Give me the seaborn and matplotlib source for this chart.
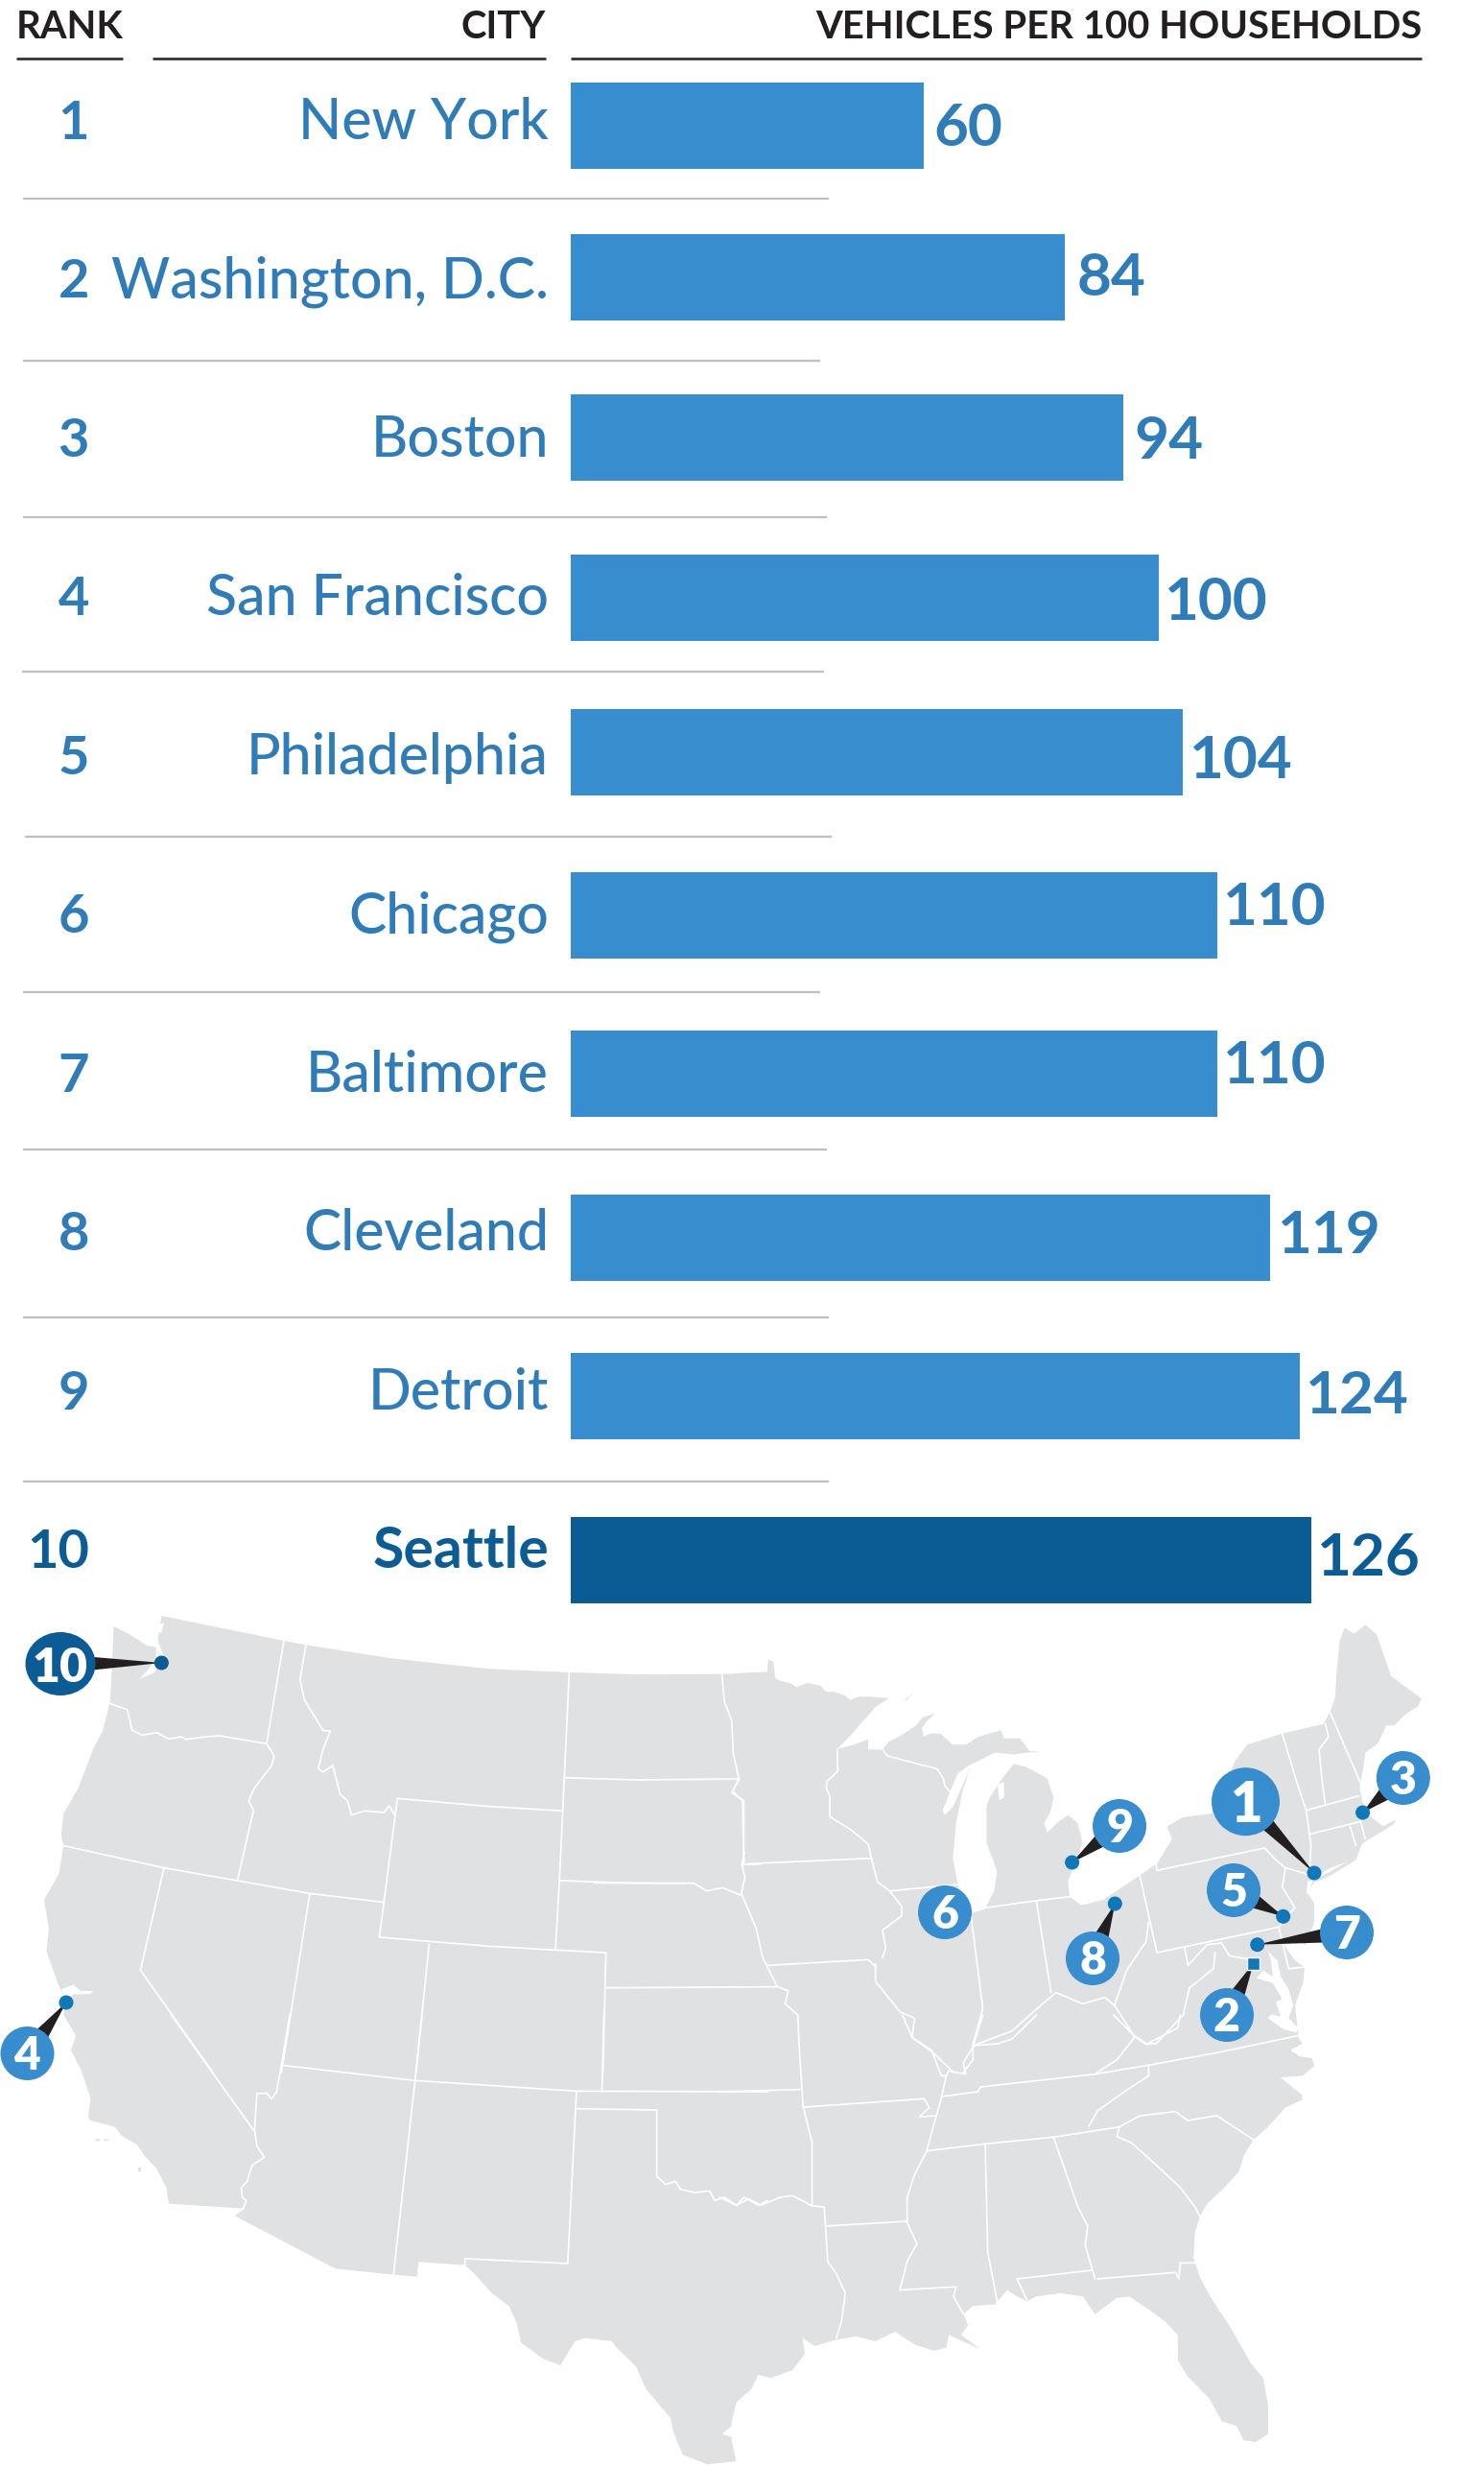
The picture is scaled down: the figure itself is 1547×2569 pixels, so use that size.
import matplotlib
matplotlib.use("Agg")
import matplotlib.pyplot as plt
from matplotlib.patches import Polygon, Ellipse, Rectangle
import numpy as np
import pandas as pd
import seaborn as sns

# ---- chart data ----
ranks = list(range(1, 11))
cities = ["New York", "Washington, D.C.", "Boston", "San Francisco", "Philadelphia",
          "Chicago", "Baltimore", "Cleveland", "Detroit", "Seattle"]
vehicles = [60, 84, 94, 100, 104, 110, 110, 119, 124, 126]

# ---- page layout, in pixels ----
W, H = 1547, 2569
bar_tops = [86, 244, 411, 578, 738.5, 908.5, 1074, 1244.5, 1410, 1580.5]
bar_h = 90
bar_left = 595
px_per_vehicle = 6.13
row_base = 145.0
row_step = 165.45
label_mid = [129.5, 285, 455.6, 623, 788, 941, 1106, 1283, 1450.5, 1619]
label_gap = [11, 13, 11, 6, 7, 6, 6, 7, 6, 6]
rule_rows = [(207, 24, 864), (376, 24, 855), (539, 24, 862), (700, 23, 859), (872, 26, 867),
             (1034, 24, 855), (1198, 24, 862), (1373, 24, 864), (1544, 24, 864)]

BLUE = "#388DCE"
DARK = "#0B5C94"
TEXT = "#2F7CB8"
DOT = "#0F78B8"
LAND = "#DFE1E3"
INK = "#231F20"
FONT = ["Lato", "DejaVu Sans"]


def px(p):
    """Font size in points for an em size in pixels at 100 dpi."""
    return p * 0.72


# Map geometry lives in overlapping sheets, each with local units.
def nw(pts):
    return [(x / 1.96, 1660 + y / 3) for x, y in pts]


def ne(pts):
    return [(750 + x / 1.967, 1660 + y / 3) for x, y in pts]


def sw(pts):
    return [(x / 1.96, 2100 + y / 3) for x, y in pts]


def se(pts):
    return [(750 + x / 1.967, 2100 + y / 3) for x, y in pts]


def lakes(pts):
    return [(780 + x / 3, 1740 + y / 3) for x, y in pts]


def east(pts):
    return [(1130 + x / 3, 1690 + y / 3) for x, y in pts]


def plains(pts):
    return [(620 + x / 3, 1930 + y / 3) for x, y in pts]


outline = (
    nw([(330, 72), (580, 150), (625, 163), (800, 205), (1000, 238), (1163, 249), (1300, 255), (1475, 254), (1568, 247)])
    + ne([(98, 247), (100, 210), (110, 215)])
    + lakes([(85, 28), (100, 35), (130, 42), (150, 55), (185, 42), (225, 50), (245, 70), (270, 70), (300, 80),
             (320, 95), (345, 85), (385, 85), (440, 90), (400, 115), (360, 160), (330, 195), (280, 248),
             (330, 235), (375, 218), (375, 250), (420, 250), (440, 225), (480, 205), (525, 175), (545, 150),
             (585, 137), (560, 160), (543, 182), (548, 210), (570, 200), (600, 200), (640, 235), (680, 235),
             (720, 210), (790, 190), (800, 215), (850, 215), (880, 255), (915, 255), (830, 265), (800, 262),
             (770, 260), (720, 285), (690, 300), (655, 325), (630, 385), (608, 440), (615, 455), (640, 430),
             (660, 385), (695, 305), (670, 380), (650, 480), (640, 590), (655, 670), (675, 735), (700, 760),
             (740, 750), (770, 690), (778, 630), (745, 540), (745, 430), (755, 400), (795, 340), (830, 295),
             (870, 305), (935, 340), (955, 400), (945, 445), (925, 480), (935, 510), (965, 480), (1000, 455),
             (1030, 480), (1045, 540), (1030, 590), (1000, 660), (1005, 710), (1040, 735)])
    + east([(0, 885), (60, 870), (180, 790), (230, 755), (275, 680), (260, 640), (310, 612), (400, 600),
            (440, 520), (470, 440), (510, 385), (620, 350), (750, 320), (770, 280), (785, 240), (790, 160),
            (800, 60), (815, 20), (845, 38), (880, 10), (915, 40), (960, 170), (1055, 240), (1045, 265),
            (1005, 290), (970, 325), (945, 325), (920, 380), (880, 410), (870, 480), (862, 520), (875, 580),
            (885, 600), (910, 620), (935, 640), (975, 620), (970, 632), (935, 655), (900, 675), (870, 695),
            (850, 745), (835, 755), (760, 800), (720, 815), (700, 850), (720, 880), (720, 940), (695, 1010),
            (640, 990), (625, 1010), (660, 1060), (690, 1080), (685, 1130), (660, 1200), (670, 1290)])
    + se([(1185, 65), (1195, 90), (1170, 110), (1190, 130), (1215, 135), (1220, 160), (1195, 190), (1150, 195),
          (1195, 250), (1195, 265), (1160, 290), (1125, 350), (1095, 390), (1075, 440), (1065, 490),
          (1035, 540), (1000, 590), (985, 630), (975, 680), (972, 760), (985, 820), (1010, 890), (1045, 970),
          (1090, 1090), (1115, 1135), (1125, 1220), (1125, 1310), (1100, 1335), (1075, 1330), (1060, 1285),
          (1030, 1270), (1005, 1200), (960, 1130), (940, 1080), (940, 1000), (915, 960), (880, 920),
          (840, 880), (815, 885), (770, 935), (745, 880), (700, 870), (650, 880), (630, 895), (610, 880),
          (590, 860), (565, 905), (520, 910), (500, 935), (510, 970), (495, 1000), (535, 1045), (470, 1000),
          (465, 1040), (440, 1050), (400, 1030), (360, 990), (320, 1020), (280, 1005), (240, 1015),
          (195, 1035), (170, 1010), (175, 1060), (150, 1110), (105, 1135), (80, 1125), (65, 1170),
          (35, 1210), (25, 1270), (25, 1330), (35, 1400)])
    + sw([(1505, 1395), (1445, 1405), (1395, 1375), (1375, 1300), (1370, 1260), (1320, 1170), (1300, 1100),
          (1260, 1040), (1250, 1020), (1195, 1010), (1175, 1020), (1145, 1095), (1110, 1075), (1065, 1025),
          (1055, 960), (1040, 910), (1005, 870), (970, 810), (950, 782), (855, 772), (852, 818), (804, 812),
          (685, 793), (480, 628), (500, 605), (345, 590), (340, 540), (320, 480), (295, 440), (280, 405),
          (250, 380), (235, 350), (185, 330), (180, 320), (185, 260), (165, 170), (145, 110), (155, 65),
          (130, 0)])
    + nw([(135, 1280), (118, 1220), (95, 1120), (100, 1050), (90, 960), (120, 880), (130, 790), (125, 760),
          (130, 690), (160, 610), (190, 490), (210, 430), (225, 340), (230, 200), (232, 105), (265, 130),
          (300, 165), (320, 170), (325, 120)])
)

# Small offshore islands
islands = [
    lakes([(488, 98), (520, 70), (495, 96)]),
    sw([(195, 387), (205, 387), (203, 394), (195, 394)]),
    sw([(213, 387), (224, 392), (214, 394)]),
    sw([(282, 477), (288, 477), (288, 488), (283, 488)]),
]

borders = [
    nw([(580, 150), (545, 470)]),
    nw([(222, 345), (260, 365), (270, 430), (290, 445), (320, 437), (345, 457), (370, 450), (380, 458),
        (420, 450), (450, 447), (545, 472), (560, 510), (555, 540), (520, 610), (508, 650), (518, 680), (485, 900)]),
    nw([(625, 163), (613, 270), (622, 335), (660, 430), (675, 432), (660, 490), (650, 550), (660, 560), (680, 540),
        (695, 630), (710, 650), (718, 695), (745, 682), (785, 687), (795, 665), (807, 695)]),
    nw([(1150, 682), (1000, 668), (812, 643), (775, 1077), (1000, 1105), (1135, 1117), (1238, 1125), (1232, 1500)]),
    nw([(1163, 249), (1153, 578), (1143, 900), (1135, 1117)]),
    nw([(1153, 578), (1300, 585), (1508, 582)]),
    nw([(1143, 900), (1300, 908), (1400, 908)]),
    plains([(0, 97), (310, 98), (350, 122), (400, 112), (455, 135)]),
    nw([(1475, 254), (1480, 340), (1495, 400), (1498, 500), (1510, 582), (1497, 620), (1517, 650), (1520, 850)]),
    plains([(468, 0), (460, 40), (470, 80), (458, 130), (480, 180), (505, 240), (525, 330), (545, 370), (570, 420),
            (605, 435), (595, 475), (635, 510), (640, 620), (652, 800)]),
    plains([(460, 40), (520, 38)]),
    plains([(35, 425), (570, 422)]),
    plains([(540, 355), (855, 337), (880, 360)]),
    nw([(335, 860), (287, 1180), (435, 1500)]),
    sw([(350, 0), (518, 360)]),
    nw([(128, 790), (335, 860), (485, 900), (633, 940), (782, 967)]),
    nw([(633, 940), (575, 1500)]),
    nw([(877, 1097), (850, 1500)]),
    sw([(592, 0), (575, 157), (565, 240), (555, 262), (545, 245), (525, 245), (520, 360), (525, 410), (540, 445),
        (515, 470), (505, 520), (493, 540), (495, 570), (503, 580), (497, 605)]),
    sw([(575, 157), (848, 205), (1178, 238), (1568, 240)]),
    sw([(862, 0), (848, 205), (804, 812)]),
    sw([(1234, 0), (1230, 240)]),
    sw([(1178, 238), (1176, 293), (1342, 297), (1342, 505), (1360, 530), (1380, 520), (1390, 545), (1420, 555),
        (1450, 550), (1460, 580), (1480, 570), (1505, 595), (1520, 570), (1550, 595), (1568, 580)]),
    sw([(1176, 293), (1160, 777), (950, 762), (950, 782)]),
    se([(0, 570), (35, 595), (60, 575), (85, 595), (125, 570), (150, 565), (190, 597), (215, 600), (222, 770),
        (240, 810), (258, 870), (250, 960), (240, 1010)]),
    se([(172, 288), (190, 400), (190, 597)]),
    se([(0, 240), (165, 233)]),
    se([(172, 288), (420, 262), (430, 290), (410, 318), (445, 315)]),
    se([(505, 185), (470, 175), (465, 190), (455, 260), (440, 340), (425, 425), (400, 500), (385, 570), (385, 650),
        (405, 715), (385, 770), (370, 860), (485, 850), (480, 880), (500, 935)]),
    se([(217, 660), (385, 645)]),
    se([(455, 255), (530, 240), (535, 225), (770, 185), (880, 157), (1030, 115), (1185, 65)]),
    se([(425, 425), (545, 403), (685, 382), (820, 350)]),
    se([(545, 405), (550, 740), (570, 900)]),
    se([(685, 382), (735, 600), (755, 660), (750, 720), (770, 825)]),
    se([(630, 890), (610, 825), (765, 798)]),
    se([(775, 825), (935, 805), (942, 825), (945, 775), (975, 775)]),
    se([(880, 157), (880, 190), (830, 240), (775, 300), (757, 350)]),
    se([(820, 350), (862, 315), (935, 302), (960, 330), (1020, 315), (1095, 390)]),
    se([(820, 350), (815, 380), (845, 400), (900, 475), (945, 540), (975, 600), (985, 630)]),
    se([(770, 185), (815, 140), (852, 68), (875, 92), (940, 40), (945, 0)]),
    se([(808, 0), (852, 68)]),
    se([(540, 0), (520, 100), (500, 150), (505, 185)]),
    se([(525, 95), (570, 90), (600, 75), (650, 0)]),
    ne([(880, 1030), (875, 1090), (835, 1180), (810, 1290), (850, 1385)]),
    ne([(810, 1290), (790, 1265), (745, 1285), (690, 1250), (655, 1295), (600, 1370), (530, 1410), (520, 1420)]),
    ne([(650, 965), (680, 1250)]),
    ne([(515, 1000), (540, 1300), (520, 1410), (520, 1460), (500, 1500)]),
    ne([(320, 1160), (320, 1215), (370, 1310), (400, 1330), (395, 1390), (440, 1440), (480, 1500)]),
    se([(375, 0), (395, 70), (435, 110), (455, 190), (465, 190)]),
    ne([(40, 583), (25, 625), (50, 650), (50, 850)]),
    lakes([(278, 248), (280, 318), (245, 350), (245, 375), (255, 395), (255, 460), (320, 500), (375, 545), (390, 610),
           (405, 665), (440, 690), (480, 740), (480, 770), (420, 815), (430, 870), (420, 900)]),
    lakes([(0, 607), (385, 590)]),
    lakes([(445, 692), (655, 672)]),
    lakes([(740, 745), (905, 722), (1005, 710)]),
    lakes([(420, 250), (435, 270), (530, 295), (590, 310), (610, 340), (615, 365), (635, 385)]),
    east([(175, 795), (228, 1035), (610, 955), (625, 930), (660, 895), (620, 830), (630, 770), (600, 745), (565, 708),
          (228, 778), (225, 750)]),
    east([(630, 770), (700, 790)]),
    east([(620, 350), (665, 500), (695, 590), (710, 700), (705, 780)]),
    east([(755, 320), (765, 360), (735, 400), (745, 500), (755, 575)]),
    east([(770, 285), (865, 505)]),
    east([(695, 590), (860, 545)]),
    east([(705, 665), (865, 625)]),
    east([(832, 640), (850, 700)]),
    east([(865, 625), (880, 680)]),
    east([(315, 1020), (325, 1075), (385, 1010), (430, 1005), (455, 1045), (510, 1055)]),
    east([(410, 1035), (405, 1085), (330, 1145), (310, 1230), (225, 1320), (195, 1320), (160, 1295)]),
    east([(610, 960), (640, 1085), (690, 1080)]),
]

# Inland water cut out of the land shape.
water = [
    east([(575, 1030), (605, 1060), (615, 1110), (640, 1150), (655, 1200), (640, 1240), (670, 1270), (665, 1285),
          (625, 1275), (575, 1240), (585, 1228), (615, 1235), (600, 1190), (620, 1180), (590, 1130), (540, 1115),
          (560, 1090), (590, 1110), (585, 1060)]),
    east([(735, 790), (770, 770), (825, 750), (770, 782), (738, 798)]),
    east([(700, 810), (715, 810), (705, 850), (695, 850)]),
    lakes([(780, 360), (800, 350), (800, 400), (785, 408)]),
    nw([(125, 1240), (150, 1225), (165, 1245), (190, 1245), (185, 1255), (150, 1255), (135, 1275)]),
    nw([(320, 140), (335, 200), (315, 250), (285, 270), (300, 245), (318, 210)]),
    nw([(305, 100), (335, 95), (330, 125), (310, 120)]),
    sw([(1500, 1280), (1475, 1310), (1495, 1320)]),
]

# Numbered callouts: circle centre, radii, text height, em size; dot position or None
callouts = [
    ("1", (1298.5, 1877.7), (35.5, 35.5), 42, 58, (1370, 1952)),
    ("2", (1279, 2100), (28, 28), 34, 48, (1306.7, 2046)),
    ("3", (1462.8, 1853), (28, 28), 34, 48, (1420.6, 1889)),
    ("4", (28.5, 2140), (28, 28), 34, 48, (69, 2087)),
    ("5", (1286, 1970), (28, 28), 34, 48, (1337.7, 1997.3)),
    ("6", (985, 1993), (28, 28), 34, 48, None),
    ("7", (1404, 2014), (28, 28), 34, 48, (1310.7, 2026.7)),
    ("8", (1139, 2041), (28, 28), 34, 48, (1162.3, 1984)),
    ("9", (1167, 1903), (28, 28), 34, 48, (1117.6, 1941)),
    ("10", (63, 1734), (36.5, 33), 38, 50, (168.4, 1733)),
]

sns.set_style("white")
plt.rcParams["font.family"] = FONT

fig = plt.figure(figsize=(W / 100, H / 100), dpi=100, facecolor="white")
page = fig.add_axes([0, 0, 1, 1])
page.set_xlim(0, W)
page.set_ylim(H, 0)
page.axis("off")

# ---- map ----
page.add_patch(Polygon(outline, closed=True, facecolor=LAND, edgecolor="none", zorder=1))
for shape in islands:
    page.add_patch(Polygon(shape, closed=True, facecolor=LAND, edgecolor="none", zorder=1))
for shape in water:
    page.add_patch(Polygon(shape, closed=True, facecolor="white", edgecolor="none", zorder=1.5))
for seg in borders:
    xs, ys = zip(*seg)
    page.plot(xs, ys, color="white", lw=1.25, solid_joinstyle="round", zorder=2)

for label, (cx, cy), (rx, ry), digit_h, em, dot in callouts:
    face = DARK if label == "10" else BLUE
    if dot is not None:
        d = np.array(dot) - np.array([cx, cy])
        d = d / np.hypot(*d)
        n = np.array([-d[1], d[0]])
        base = np.array([cx, cy]) + d * min(rx, ry) * 0.95
        page.add_patch(Polygon([dot, base + n * 7, base - n * 7], closed=True, facecolor=INK,
                               edgecolor="none", zorder=3))
        if label == "2":
            page.add_patch(Rectangle((dot[0] - 6.5, dot[1] - 6.5), 13, 13, facecolor=DOT, zorder=5))
        else:
            page.add_patch(Ellipse(dot, 15, 15, facecolor=DARK if label == "10" else DOT, edgecolor="none", zorder=5))
    page.add_patch(Ellipse((cx, cy), 2 * rx, 2 * ry, facecolor=face, edgecolor="none", zorder=4))
    page.text(cx, cy + digit_h / 2, label, color="white", fontsize=px(em), fontweight=800,
              ha="center", va="baseline", zorder=6)

# ---- header ----
for text, right in (("RANK", 129), ("CITY", 569), ("VEHICLES PER 100 HOUSEHOLDS", 1482)):
    page.text(right, 40, text, color=INK, fontsize=px(40), fontweight="bold", ha="right", va="baseline")
for x0, x1 in ((17, 128), (159, 569), (595, 1482)):
    page.plot([x0, x1], [61, 61], color="#333333", lw=2.0, solid_capstyle="butt")

# ---- row rules and labels ----
for y, x0, x1 in rule_rows:
    page.plot([x0, x1], [y, y], color="#BFBFBF", lw=1.6, solid_capstyle="butt")

for i, (rank, city) in enumerate(zip(ranks, cities)):
    top_row = city == "Seattle"
    y = row_base + row_step * i
    col = DARK if top_row else TEXT
    page.text(93, y, str(rank), color=col, fontsize=px(56), fontweight="bold", ha="right", va="baseline")
    page.text(572, y, city, color=col, fontsize=px(59), fontweight="bold" if top_row else "medium",
              ha="right", va="baseline")

# ---- bars ----
bar_centers = [t + bar_h / 2 for t in bar_tops]
rows = pd.DataFrame({"center": bar_centers, "vehicles": vehicles, "city": cities})
bars = fig.add_axes([bar_left / W, 0, 1 - bar_left / W, 1])
bars.patch.set_alpha(0)
palette = {c: (DARK if c == "Seattle" else BLUE) for c in cities}
sns.barplot(data=rows, x="vehicles", y="center", hue="city", palette=palette, orient="y",
            native_scale=True, dodge=False, legend=False, saturation=1,
            width=bar_h / float(np.diff(bar_centers).min()), linewidth=0, ax=bars)
bars.set_xlim(0, (W - bar_left) / px_per_vehicle)
bars.set_ylim(H, 0)
bars.axis("off")

for value, mid, gap, city in zip(vehicles, label_mid, label_gap, cities):
    bars.text(value + gap / px_per_vehicle, mid + 22.5, str(value), color=DARK if city == "Seattle" else TEXT,
              fontsize=px(62), fontweight="bold", ha="left", va="baseline")

fig.savefig("out.png", dpi=100, facecolor="white")
